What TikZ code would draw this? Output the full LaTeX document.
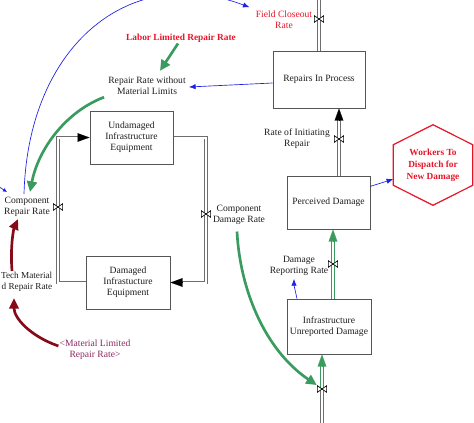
\documentclass[tikz,border=0pt]{standalone}
\usepackage{fontspec}
\setmainfont{Liberation Serif}
\usetikzlibrary{arrows.meta,calc,backgrounds}
\definecolor{vgreen}{RGB}{58,155,95}
\definecolor{vblue}{RGB}{30,30,230}
\definecolor{vred}{RGB}{232,20,40}
\definecolor{vdred}{RGB}{135,10,25}
\definecolor{vpurple}{RGB}{140,40,95}
\definecolor{vtext}{RGB}{30,30,30}
\definecolor{vbox}{RGB}{85,85,85}
\definecolor{vpipe}{RGB}{110,110,110}
\begin{document}
\begin{tikzpicture}[x=0.75pt,y=-0.75pt,
  font=\fontsize{7.2}{8.3}\selectfont,
  stock/.style={draw=vbox, line width=0.75pt, fill=white, align=center, text=vtext, inner sep=0pt},
  lbl/.style={align=center, text=vtext, inner sep=0pt},
  pipe/.style={draw=vpipe, double=white, line width=0.7pt, double distance=1.5pt, line join=miter},
  gpipe/.style={draw=vgreen, double=white, line width=0.7pt, double distance=1.5pt},
  ptip/.style={-{Triangle[length=9pt,width=6.5pt]}, line width=0.1pt},
  valve/.style={minimum width=7.5pt, minimum height=5.5pt, inner sep=0pt,
    path picture={\filldraw[fill=white, draw=black, line width=0.5pt]
      ($(path picture bounding box.south west)+(0.3pt,0.3pt)$) --
      ($(path picture bounding box.north east)+(-0.3pt,-0.3pt)$) --
      ($(path picture bounding box.south east)+(-0.3pt,0.3pt)$) --
      ($(path picture bounding box.north west)+(0.3pt,-0.3pt)$) -- cycle;}},
  blink/.style={vblue, line width=0.5pt, -{Latex[length=5pt,width=4pt]}},
  glink/.style={vgreen, line width=2pt, -{Triangle[length=8pt,width=7.5pt]}},
  rlink/.style={vdred, line width=2pt, -{Triangle[length=8pt,width=7pt]}}]

\useasboundingbox (0,0) rectangle (474,422);

% stocks
\node[stock, minimum width=62.25pt, minimum height=39.75pt] (und) at (131.5,137.5) {Undamaged\\Infrastructure\\Equipment};
\node[stock, minimum width=63pt, minimum height=39.75pt] (dam) at (128,282.5) {Damaged\\Infrastucture\\Equipment};
\node[stock, minimum width=69pt, minimum height=42.75pt] (rip) at (319,79.5) {Repairs In Process};
\node[stock, minimum width=62.25pt, minimum height=39.75pt] (per) at (328.5,202.5) {Perceived Damage};
\node[stock, minimum width=63pt, minimum height=41.25pt] (unr) at (329,326.5) {Infrastructure\\Unreported Damage};

% valves
\node[valve] (vcr) at (58,207) {};
\node[valve] (vcd) at (206,214) {};
\node[valve] (vfc) at (319,19) {};
\node[valve] (vri) at (339,139) {};
\node[valve] (vdr) at (333,264) {};
\node[valve] (vin) at (322,389) {};
\coordinate (ctop) at (319,-4);
\coordinate (cbot) at (322,426);
\coordinate (lft) at (-2,186);

% pipes
\begin{scope}[on background layer]
  \draw[pipe] (dam.west) -- (vcr |- dam.west) -- (vcr |- und.west) -- ($(und.west)+(-8pt,0)$);
  \draw[pipe] (und.east) -- (vcd |- und.east) -- (vcd |- dam.east) -- ($(dam.east)+(8pt,0)$);
  \draw[pipe] (rip.north) -- (ctop);
  \draw[pipe, shorten >=8pt] (vri |- per.north) -- (vri |- rip.south);
  \draw[gpipe, shorten >=8pt] (vdr |- unr.north) -- (vdr |- per.south);
  \draw[pipe] (cbot) -- (vin.center);
  \draw[gpipe, shorten >=8pt] (vin.center) -- (vin |- unr.south);
\end{scope}
\draw[ptip, black] ($(und.west)+(-9pt,0)$) -- (und.west);
\draw[ptip, black] ($(dam.east)+(9pt,0)$) -- (dam.east);
\draw[ptip, black] ($(vri |- rip.south)+(0,-9pt)$) -- (vri |- rip.south);
\draw[ptip, vgreen] ($(vdr |- per.south)+(0,-9pt)$) -- (vdr |- per.south);
\draw[ptip, vgreen] ($(vin |- unr.south)+(0,-9pt)$) -- (vin |- unr.south);

% labels
\node[lbl] (crr) at (27,207) {Component\\Repair Rate};
\node[lbl] (cdr) at (239,214.5) {Component\\Damage Rate};
\node[lbl, text=vred] (fcr) at (284,19.5) {Field Closeout\\Rate};
\node[lbl] (rir) at (297,139) {Rate of Initiating\\Repair};
\node[lbl] (drr) at (299,266) {Damage\\Reporting Rate};
\node[lbl] (rrw) at (147,86) {Repair Rate without\\Material Limits};
\node[lbl, text=vred, font=\fontsize{7}{8.3}\selectfont\bfseries] (llr) at (181,38) {Labor Limited Repair Rate};
\node[lbl, text=vpurple] (mlr) at (95,350) {<Material Limited\\Repair Rate>};
\node[lbl, align=right, anchor=west, font=\fontsize{6.9}{8.3}\selectfont] (tmr) at (0.8,281.5) {Tech Material\\d Repair Rate};
\node[lbl, text=vred, minimum width=59.25pt, minimum height=30pt, font=\fontsize{7}{9}\selectfont\bfseries] (wrk) at (433,165) {Workers To\\Dispatch for\\New Damage};
\draw[vred, line width=0.9pt] (wrk.north west) -- ($(wrk.north)+(0,-20)$) -- (wrk.north east) -- (wrk.south east) -- ($(wrk.south)+(0,20)$) -- (wrk.south west) -- cycle;

% links
\draw[glink] ($(llr.south)+(-3,1)$) -- ($(rrw.north)+(13,-6)$);
\draw[blink] ($(rip.west)+(0,3.5)$) -- ($(rrw.east)+(3,1)$);
\draw[blink] ($(crr.north)+(-3,-3)$) .. controls (28,45) and (130,-38) .. ($(fcr.north west)+(-6,-3)$);
\draw[glink] ($(rrw.south west)+(-4,2)$) .. controls (65,112) and (38,150) .. ($(crr.north)+(3,-5)$);
\draw[blink, -{Latex[length=3pt,width=3pt]}] (lft) -- ($(crr.north west)+(3,-5)$);
\draw[rlink] (12,271) .. controls (10,245) and (14,228) .. ($(crr.south)+(-9,2)$);
\draw[rlink] ($(mlr.west)+(-1,-4)$) .. controls (30,336) and (14,318) .. (14,298);
\draw[glink] ($(cdr.south)+(-2,7)$) .. controls (240,290) and (265,350) .. (vin.north west);
\draw[blink] ($(unr.north)+(-32,0)$) .. controls (295,290) and (294,285) .. ($(drr.south)+(-5,3)$);
\draw[blink] ($(per.north east)!0.2!(per.south east)$) -- ($(wrk.north west)!0.85!(wrk.south west)$);
\end{tikzpicture}
\end{document}
